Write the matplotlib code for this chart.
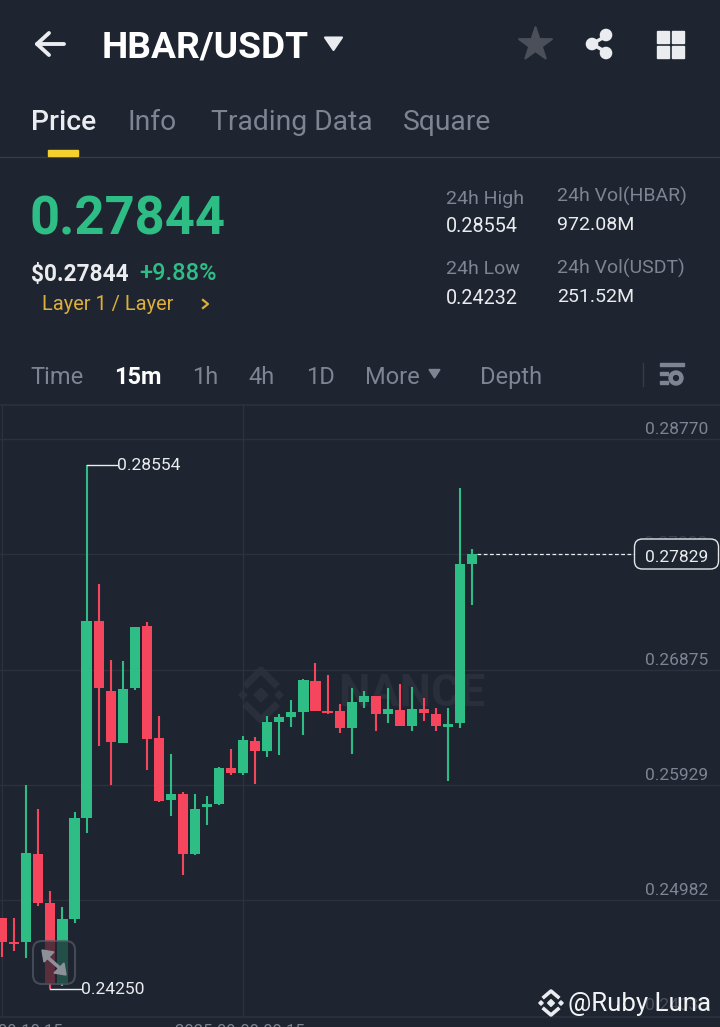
import matplotlib
matplotlib.use("Agg")
import matplotlib.pyplot as plt
from matplotlib.patches import FancyBboxPatch, Polygon, Rectangle, Circle

plt.rcParams['font.family'] = ['Roboto', 'DejaVu Sans']

# ---- data (prices) ----
opens = [.24834,.24637,.24637,.25360,.24957,.24300,.24826,.25656,.27275,.26699,
         .26272,.26724,.27234,.26313,.25803,.25853,.25360,.25746,.25771,.26066,
         .26025,.26288,.26206,.26444,.26485,.26527,.26782,.26535,.26535,.26395,
         .26609,.26658,.26510,.26543,.26412,.26551,.26510,.26403,.26436,.27743]
closes = [.24637,.24620,.25368,.24957,.24300,.24826,.25656,.27275,.26724,.26280,
          .26716,.27225,.26305,.25795,.25853,.25360,.25729,.25771,.26066,.26025,
          .26296,.26206,.26444,.26485,.26527,.26790,.26535,.26518,.26395,.26609,
          .26658,.26510,.26551,.26412,.26551,.26518,.26412,.26428,.27743,.27825]
highs = [.24834,.24834,.25927,.25729,.25056,.24924,.25705,.28554,.27579,.26954,
         .26946,.27225,.27266,.26494,.26181,.25869,.25853,.25836,.26075,.26223,
         .26329,.26321,.26494,.26510,.26625,.26798,.26929,.26831,.26592,.26724,
         .26699,.26658,.26724,.26757,.26732,.26642,.26559,.26559,.28367,.27866]
lows = [.24513,.24563,.24505,.24932,.24250,.24275,.24793,.25532,.26247,.25927,
        .26272,.26708,.26050,.25787,.25672,.25187,.25352,.25598,.25762,.26009,
        .26009,.25935,.26157,.26173,.26403,.26338,.26535,.26510,.26354,.26181,
        .26559,.26370,.26436,.26412,.26370,.26453,.26370,.25960,.26395,.27406]
grid_prices = [0.28770, 0.27822, 0.26875, 0.25929, 0.24982]
grid_labels = ['0.28770', '', '0.26875', '0.25929', '0.24982']
last_price = 0.27825
last_label = '0.27829'
high_label, high_idx, high_val = '0.28554', 7, 0.28554
low_label, low_idx, low_val = '0.24250', 4, 0.24250
tabs = ['Price', 'Info', 'Trading Data', 'Square']
intervals = ['Time', '15m', '1h', '4h', '1D', 'More', 'Depth']

BG = '#1e2530'; GRID = '#2c323d'; GREEN = '#2ebd85'; RED = '#f6465d'
WHITE = '#eaecef'; GRAY = '#7d8592'; GOLD = '#dcae3c'

fig = plt.figure(figsize=(7.2, 10.27), dpi=100, facecolor=BG)

# watermark layer, beneath the candles
bk = fig.add_axes([0, 0, 1, 1], facecolor=BG, zorder=0)
bk.set_xlim(0, 720); bk.set_ylim(1027, 0); bk.axis('off')
wm = '#2a303b'
for cx, cy, r in ((261, 695, 7), (243, 695, 4), (279, 695, 4)):
    bk.add_patch(Polygon([[cx - r, cy], [cx, cy - r], [cx + r, cy], [cx, cy + r]], closed=True, color=wm))
bk.plot([247, 261, 275], [684, 670, 684], color=wm, lw=5)
bk.plot([247, 261, 275], [706, 720, 706], color=wm, lw=5)
bk.text(338, 694, 'NANCE', fontsize=32, color=wm, fontweight='bold', va='center')

# chart axes: x = candle index, y = price
ax = fig.add_axes([0, (1027 - 1017) / 1027, 1, (1017 - 405) / 1027], facecolor='none', zorder=1)
ax.set_xlim(-0.183, 59.57)
ax.set_ylim(0.24020, 0.29049)
for s in ax.spines.values():
    s.set_visible(False)
ax.set_xticks([]); ax.set_yticks([])
for p in grid_prices:
    ax.axhline(p, color=GRID, lw=1, zorder=1)
for xv in (0, 20):
    ax.axvline(xv, color=GRID, lw=1, zorder=1)
for i in range(len(opens)):
    o, c, h, l = opens[i], closes[i], highs[i], lows[i]
    col = GREEN if c >= o else RED
    ax.vlines(i, l, h, color=col, lw=1.5, zorder=3)
    ax.bar(i, max(abs(c - o), 0.00012), bottom=min(o, c), width=0.84, color=col, zorder=3)

# last price dashed line
ax.plot([39.4, 52.5], [last_price, last_price], color=WHITE, lw=0.9, ls=(0, (3, 2)), zorder=4)
# high / low leader lines
ax.plot([high_idx, high_idx + 2.5], [high_val, high_val], color=WHITE, lw=1, zorder=4)
ax.plot([low_idx, low_idx + 2.5], [low_val, low_val], color=WHITE, lw=1, zorder=4)
ax.annotate(high_label, (high_idx + 2.5, high_val - 0.00004), color=WHITE, fontsize=12.6, va='center', zorder=5)
ax.annotate(low_label, (low_idx + 2.5, low_val - 0.00004), color=WHITE, fontsize=12.6, va='center', zorder=5)

# overlay in pixels for the app interface
ov = fig.add_axes([0, 0, 1, 1], facecolor='none', zorder=2)
ov.set_xlim(0, 720); ov.set_ylim(1027, 0); ov.axis('off')

def T(x, y, s, size, color=WHITE, weight='normal', ha='left', alpha=1, z=6):
    return ov.text(x, y, s, fontsize=size, color=color, fontweight=weight, ha=ha, va='center', alpha=alpha, zorder=z)

# header
ov.plot([37, 64], [44, 44], color=WHITE, lw=2.8, solid_capstyle='round')
ov.plot([49, 37, 49], [33, 44, 55], color=WHITE, lw=2.8, solid_capstyle='round', solid_joinstyle='round')
T(102, 47, 'HBAR/USDT', 26.7, '#ffffff', 'bold')
ov.add_patch(Polygon([[325, 37.5], [342, 37.5], [333.5, 50]], closed=True, fc=WHITE, ec=WHITE, lw=1.5, joinstyle='round'))
ov.scatter([535], [44], marker='*', s=620, color='#4a4f5a', linewidths=1.5, edgecolors='#4a4f5a')
ov.plot([606, 592, 606], [36, 44, 52], color=WHITE, lw=2.5)
for cx, cy in ((606, 35), (592, 44), (606, 53)):
    ov.add_patch(Circle((cx, cy), 5.6, color=WHITE))
for x0, y0 in ((657, 31), (672, 31), (657, 46), (672, 46)):
    ov.add_patch(Rectangle((x0, y0), 12, 11.5, color=WHITE))

# tabs
tab_x = [31, 127, 211, 403]
for i, (tx, tl) in enumerate(zip(tab_x, tabs)):
    T(tx, 122.5, tl, 20.3, WHITE if i == 0 else GRAY, 'medium' if i == 0 else 'normal')
ov.add_patch(Rectangle((48, 150), 30, 6, color='#f5cf2e', zorder=7))
ov.plot([0, 720], [156.5, 156.5], color='#363c47', lw=1)

# price block
T(30, 220, '0.27844', 37.8, GREEN, 'bold')
T(31, 274, '$0.27844', 16.3, WHITE, 'bold')
T(139, 274, '+9.88%', 17, GREEN, 'medium')
T(42, 305, 'Layer 1 / Layer', 14.4, GOLD)
ov.plot([203, 208, 203], [300, 304, 308], color=GOLD, lw=1.6)
T(446, 199, '24h High', 14, GRAY)
T(446, 227, '0.28554', 14.2, WHITE)
T(446, 269, '24h Low', 14, GRAY)
T(446, 298, '0.24232', 14.2, WHITE)
T(557, 196, '24h Vol(HBAR)', 14, GRAY)
T(557, 225, '972.08M', 14, WHITE)
T(557, 268, '24h Vol(USDT)', 14, GRAY)
T(557, 297, '251.52M', 14, WHITE)

# interval row
int_x = [30, 114, 192, 248, 306, 365, 480]
for tx, tl in zip(int_x, intervals):
    sel = tl == '15m'
    T(tx, 377.5, tl, 17, '#ffffff' if sel else GRAY, 'bold' if sel else 'normal')
ov.add_patch(Polygon([[429, 369.5], [440, 369.5], [434.5, 378]], closed=True, fc=GRAY, ec=GRAY, lw=1))
ov.plot([642.5, 642.5], [363, 386], color='#363c47', lw=1)
ov.add_patch(Rectangle((660, 363), 24, 3, color=GRAY))
ov.add_patch(Rectangle((660, 372), 8, 3, color=GRAY))
ov.add_patch(Rectangle((660, 381), 8, 3, color=GRAY))
ov.add_patch(Circle((676, 378), 7, color=GRAY))
ov.add_patch(Circle((676, 378), 2.4, color=BG))
ov.plot([0, 720], [405, 405], color=GRID, lw=1.2)
ov.plot([0, 720], [1017, 1017], color=GRID, lw=1.2)

# axis labels
for p, lab in zip(grid_prices, grid_labels):
    if lab:
        yy = 1027 - 10 - (p - 0.24020) / (0.29049 - 0.24020) * 612
        T(708, yy - 9.5, lab, 12.5, GRAY, ha='right')
T(708, 1005, '0.24035', 12.5, '#4a505c', ha='right', z=5)
T(-2, 1032, '09-10 15', 12, GRAY).set_clip_on(True)
T(175, 1032, '2025-09-09 09:15', 12, GRAY).set_clip_on(True)

# last price tag
T(676, 544, '0.27822', 12.5, '#3a404b', ha='center', z=5)
ov.add_patch(FancyBboxPatch((634.5, 539), 84, 30, boxstyle='round,pad=0,rounding_size=8', fc=BG, ec=WHITE, lw=1, zorder=6, alpha=0.97))
T(677, 557.5, last_label, 12.5, WHITE, ha='center', z=7)

# expand button
ov.add_patch(FancyBboxPatch((33, 941), 42, 43, boxstyle='round,pad=0,rounding_size=9', fc=BG, ec='#555b66', lw=1.5, alpha=0.72, zorder=6))
ov.add_patch(Polygon([[42, 950], [54, 952], [44, 962]], closed=True, color='#8c9099', zorder=7))
ov.add_patch(Polygon([[66, 975], [54, 973], [64, 963]], closed=True, color='#8c9099', zorder=7))
ov.plot([46, 62], [956, 970], color='#8c9099', lw=2.6, zorder=7)

# credit mark
for cx, cy, r in ((551, 1003, 3.4), (541, 1003, 2.2), (561, 1003, 2.2)):
    ov.add_patch(Polygon([[cx - r, cy], [cx, cy - r], [cx + r, cy], [cx, cy + r]], closed=True, color=WHITE, zorder=8))
ov.plot([544, 551, 558], [997, 991, 997], color=WHITE, lw=2.6, zorder=8)
ov.plot([544, 551, 558], [1009, 1015, 1009], color=WHITE, lw=2.6, zorder=8)
T(568, 1004, '@Ruby Luna', 18.6, '#f2f3f5', z=8)

fig.savefig('out.png', dpi=100, facecolor=BG)
